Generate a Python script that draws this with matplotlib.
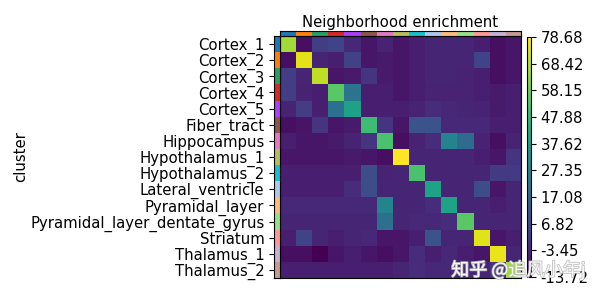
import matplotlib
matplotlib.use('Agg')
import matplotlib.pyplot as plt
import matplotlib.patheffects as pe
import numpy as np
from matplotlib.colors import ListedColormap

# --- data ---
clusters = ['Cortex_1', 'Cortex_2', 'Cortex_3', 'Cortex_4', 'Cortex_5',
            'Fiber_tract', 'Hippocampus', 'Hypothalamus_1', 'Hypothalamus_2',
            'Lateral_ventricle', 'Pyramidal_layer', 'Pyramidal_layer_dentate_gyrus',
            'Striatum', 'Thalamus_1', 'Thalamus_2']
cluster_colors = ['#1f77b4', '#ff7f0e', '#279e68', '#d62728', '#aa40fc',
                  '#8c564b', '#e377c2', '#b5bd61', '#17becf', '#aec7e8',
                  '#ffbb78', '#98df8a', '#ff9896', '#c5b0d5', '#c49c94']
zscore = [
    [66, -10, 3, 5, -3, -8, -5, -8, -6, -4, -4, -4, -6, -10, -8],
    [-10, 75, -4, -6, 4, -8, -7, -8, -6, -4, -4, -4, 5, -10, -8],
    [3, -4, 70, -8, -7, 0, -7, -8, -6, -4, -4, -5, -6, -10, -8],
    [3, -5, -6, 55, 22, -6, -6, -8, -6, -5, -5, -5, -6, -7, -6],
    [-5, 3, -6, 20, 39, -6, -6, -6, -5, -2, -3, -4, -5, -7, -6],
    [-10, -9, 0, -8, -7, 50, 0, -8, 10, 10, -3, -3, -3, -6, -6],
    [-6, -8, -8, -7, -5, 0, 52, -10, -5, -2, 28, 19, -5, -10, -5],
    [-8, -8, -8, -8, -7, -8, -10, 78.68, -4, -4, -4, -4, -6, -8, 0],
    [-6, -6, -6, -6, -6, 8, -5, -4, 52, -4, -4, -4, -4, 2, 2],
    [-6, -6, -6, -6, -2, 8, -4, -4, -4, 40, -4, -4, 8, -8, -4],
    [-3, -3, -3, -3, -3, -3, 28, -4, -4, -2, 40, -4, -4, -6, -4],
    [-4, -4, -4, -4, -4, -4, 20, -4, -3, -3, -2, 55, -4, -4, -4],
    [-6, 5, -4, -6, -4, -3, -8, -8, -6, 10, -4, -4, 74, -8, -6],
    [-10, -10, -13.72, -8, -6, -8, -10, -8, -2, -6, -3, -6, -8, 76, -4],
    [-6, -6, -6, -6, -6, -6, -6, -4, -2, -3, -3, -3, -4, 0, 66],
]
vmin, vmax = -13.72, 78.68
cbar_ticks = [78.68, 68.42, 58.15, 47.88, 37.62, 27.35, 17.08, 6.82, -3.45, -13.72]

mat = np.array(zscore)
n = len(clusters)
FS = 10.7

fig = plt.figure(figsize=(6, 2.95), dpi=100)

ax = fig.add_axes([0.4667, 0.0576, 0.4017, 0.8203])
im = ax.imshow(mat, cmap='viridis', vmin=vmin, vmax=vmax, aspect='auto',
               interpolation='nearest')
ax.set_xticks([])
ax.set_yticks([])

# row colour strip with labels
cmap_cat = ListedColormap(cluster_colors)
axl = fig.add_axes([0.4567, 0.0576, 0.01, 0.8203])
axl.imshow(np.arange(n)[:, None], cmap=cmap_cat, aspect='auto', interpolation='nearest')
axl.set_xticks([])
axl.set_yticks(range(n))
axl.set_yticklabels(clusters, fontsize=FS)
axl.set_ylabel('cluster', fontsize=FS)
axl.yaxis.set_label_coords(0.047, 0.47, transform=fig.transFigure)

# column colour strip
axt = fig.add_axes([0.4667, 0.878, 0.4017, 0.0169])
axt.imshow(np.arange(n)[None, :], cmap=cmap_cat, aspect='auto', interpolation='nearest')
axt.set_xticks([])
axt.set_yticks([])
axt.set_title('Neighborhood enrichment', fontsize=FS, pad=3)

# colour bar
cax = fig.add_axes([0.8783, 0.061, 0.0067, 0.813])
cb = fig.colorbar(im, cax=cax, ticks=cbar_ticks)
cb.ax.set_yticklabels(['%.2f' % t for t in cbar_ticks], fontsize=FS)
cb.outline.set_linewidth(0.8)

# watermark
fig.text(0.752, 0.085, '知乎 @追风小年j', fontsize=13, color='white', alpha=0.9,
         family=['Noto Sans CJK SC', 'DejaVu Sans'], ha='left', va='center',
         path_effects=[pe.withStroke(linewidth=1.2, foreground='#bbbbbb')])

fig.savefig('out.png', dpi=100, facecolor='white')
plt.close(fig)
